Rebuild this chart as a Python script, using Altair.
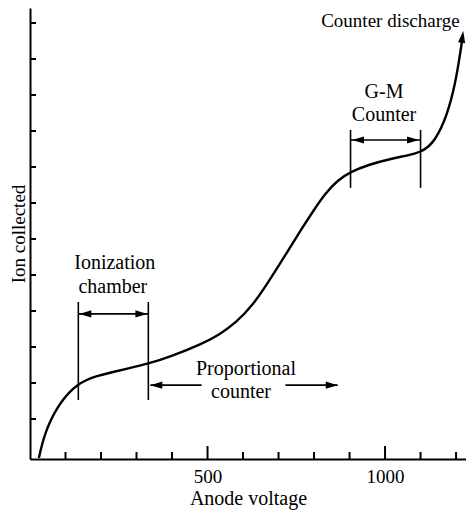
import altair as alt
import pandas as pd

FONT = "Liberation Serif"

# Curve: anode voltage (V) vs ion collected (arbitrary units, one unit per y tick)
curve_v = [25.0, 33.3, 44.4, 58.3, 75.0, 94.4, 113.9, 133.3, 158.3, 183.3, 227.8, 275.0,
           335.3, 395.3, 488.1, 534.2, 580.6, 626.9, 673.1, 719.4, 765.8, 802.8, 830.6,
           866.7, 902.8, 950.0, 1025.0, 1063.9, 1100.0, 1122.2, 1141.7, 1158.3, 1172.2,
           1186.1, 1197.2, 1205.6, 1213.9, 1218.1]
curve_y = [-0.083, 0.278, 0.639, 0.972, 1.278, 1.556, 1.778, 1.944, 2.083, 2.181, 2.292, 2.403,
           2.542, 2.731, 3.103, 3.35, 3.68, 4.15, 4.83, 5.556, 6.297, 6.853, 7.25,
           7.639, 7.861, 8.056, 8.25, 8.319, 8.417, 8.556, 8.778, 9.083, 9.417,
           9.861, 10.333, 10.778, 11.306, 11.583]

y_ticks = list(range(1, 13))
x_minor = [100, 200, 300, 400, 600, 700, 800, 900, 1100, 1200]
x_major = [500, 1000]

# region bracket lines
vl_x = [136.1, 333.3, 902.8, 1100]
vl_y = [4.25, 4.25, 9.03, 9.03]
vl_y2 = [1.53, 1.53, 7.42, 7.42]

# arrow shafts
sh_x = [136.1, 902.8, 338.9, 719.4]
sh_x2 = [333.3, 1100, 483.3, 866.7]
sh_y = [3.92, 8.75, 1.94, 1.94]

# arrow heads (tips)
hd_x = [138.9, 330.6, 906.9, 1095.8, 338.9, 866.7, 1220.3]
hd_y = [3.92, 3.92, 8.75, 8.75, 1.94, 1.94, 11.78]
hd_angle = [270, 90, 270, 90, 270, 90, 8]

# annotations
tx_text = ["Ionization", "chamber", "Proportional", "counter", "G-M", "Counter"]
tx_x = [238.9, 233.3, 608.3, 594.4, 997.2, 997.2]
tx_y = [5.17, 4.5, 2.22, 1.58, 9.92, 9.28]
top_text = ["Counter discharge"]
top_x = [1210.0]
top_y = [11.9]

W, H = 436, 451
xs = alt.Scale(domain=[0, 1228], nice=False, zero=False)
ys = alt.Scale(domain=[-0.1111, 12.4167], nice=False, zero=False)

curve = alt.Chart(pd.DataFrame({"v": curve_v, "y": curve_y})).mark_line(
    color="black", strokeWidth=2.4, interpolate="basis"
).encode(
    x=alt.X("v:Q", scale=xs, title="Anode voltage",
            axis=alt.Axis(values=x_major, format="d", ticks=False, grid=False,
                          domainColor="black", domainWidth=2, labelFont=FONT,
                          labelFontSize=19, labelColor="black", labelPadding=8,
                          titleFont=FONT, titleFontSize=20, titleFontWeight="normal",
                          titleColor="black", titlePadding=2, labelFlush=False)),
    y=alt.Y("y:Q", scale=ys, title="Ion collected",
            axis=alt.Axis(labels=False, ticks=False, grid=False, domainColor="black",
                          domainWidth=2, titleFont=FONT, titleFontSize=19,
                          titleFontWeight="normal", titleColor="black", titlePadding=2)),
)

yt = alt.Chart(pd.DataFrame({"y": y_ticks})).mark_rule(color="black", strokeWidth=2).encode(
    y=alt.Y("y:Q", scale=ys), x=alt.value(0), x2=alt.value(6)
)
xt1 = alt.Chart(pd.DataFrame({"v": x_minor})).mark_rule(color="black", strokeWidth=2).encode(
    x=alt.X("v:Q", scale=xs), y=alt.value(H), y2=alt.value(H - 7)
)
xt2 = alt.Chart(pd.DataFrame({"v": x_major})).mark_rule(color="black", strokeWidth=2).encode(
    x=alt.X("v:Q", scale=xs), y=alt.value(H), y2=alt.value(H - 13)
)

vlines = alt.Chart(pd.DataFrame({"x": vl_x, "y": vl_y, "y2": vl_y2})).mark_rule(
    color="black", strokeWidth=1.6
).encode(x=alt.X("x:Q", scale=xs), y=alt.Y("y:Q", scale=ys), y2="y2:Q")

shafts = alt.Chart(pd.DataFrame({"x": sh_x, "x2": sh_x2, "y": sh_y})).mark_rule(
    color="black", strokeWidth=1.6
).encode(x=alt.X("x:Q", scale=xs), x2="x2:Q", y=alt.Y("y:Q", scale=ys))

heads = alt.Chart(pd.DataFrame({"x": hd_x, "y": hd_y, "a": hd_angle})).mark_point(
    shape="M0,0L0.3,1L-0.3,1Z", filled=True, color="black", opacity=1, size=576, strokeWidth=0
).encode(x=alt.X("x:Q", scale=xs), y=alt.Y("y:Q", scale=ys), angle=alt.Angle("a:Q", scale=None))

texts = alt.Chart(pd.DataFrame({"x": tx_x, "y": tx_y, "t": tx_text})).mark_text(
    font=FONT, fontSize=20, color="black", align="center", baseline="alphabetic"
).encode(x=alt.X("x:Q", scale=xs), y=alt.Y("y:Q", scale=ys), text="t:N")

top = alt.Chart(pd.DataFrame({"x": top_x, "y": top_y, "t": top_text})).mark_text(
    font=FONT, fontSize=19, color="black", align="right", baseline="alphabetic"
).encode(x=alt.X("x:Q", scale=xs), y=alt.Y("y:Q", scale=ys), text="t:N")

chart = alt.layer(curve, yt, xt1, xt2, vlines, shafts, heads, texts, top).properties(
    width=W, height=H,
    autosize=alt.AutoSizeParams(type="none"),
    padding={"left": 22, "top": 0, "right": 0, "bottom": 51},
).configure_view(strokeWidth=0)

chart.save("out.html", embed_options={"renderer": "svg", "actions": False})
